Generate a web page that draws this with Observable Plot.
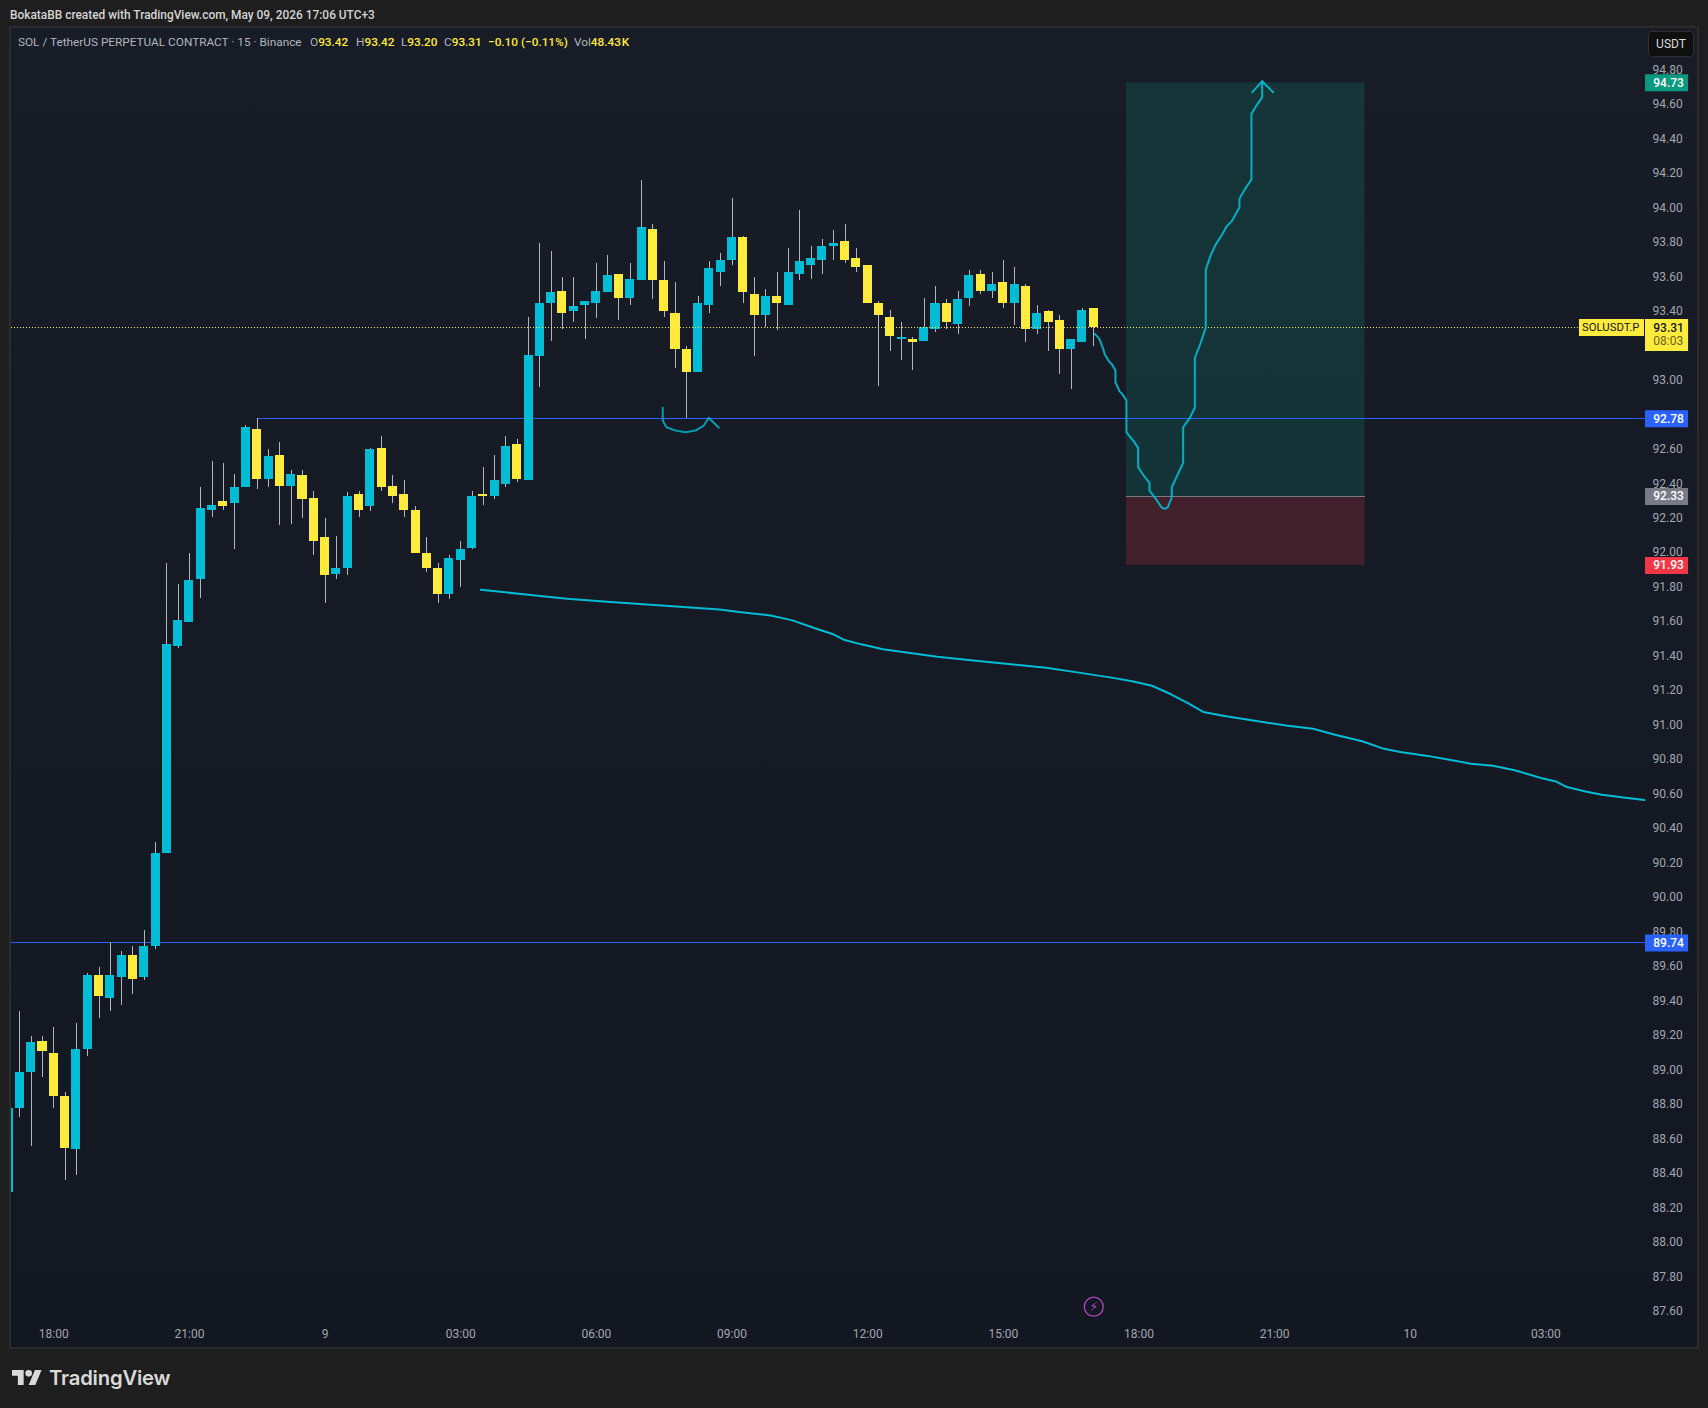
<!DOCTYPE html>
<html>
<head>
<meta charset="utf-8">
<script src="https://cdn.jsdelivr.net/npm/d3@7"></script>
<script src="https://cdn.jsdelivr.net/npm/@observablehq/plot@0.6"></script>
<style>
html,body{margin:0;padding:0;background:#1e1e1e;}
#page{position:relative;width:1708px;height:1408px;overflow:hidden;font-family:Roboto,"Liberation Sans",sans-serif;}
#panel{position:absolute;left:9px;top:26px;width:1686px;height:1319px;border:2px solid #2b2c2e;background:linear-gradient(#181c27,#131722);}
#chart{position:absolute;left:0;top:0;}
#chart svg{background:transparent !important;display:block;}
.t{position:absolute;white-space:nowrap;font-size:11.8px;line-height:16px;}
#credit{left:10px;top:7px;color:#d4d4d4;font-size:11.9px;font-weight:500;}
.lg{top:34px;color:#b2b5be;}
.lg b{font-weight:500;color:#ffeb3b;}
#vol{word-spacing:-2px;}
#usdt{position:absolute;left:1648px;top:31px;width:44px;height:24px;line-height:24px;text-align:center;background:#0f0f0f;border:1px solid #2f2f2f;border-radius:4px;color:#dbdbdb;font-size:12px;}
#logo{position:absolute;left:12px;top:1370px;}
#wm{position:absolute;left:49px;top:1364px;color:#d9d9d9;font:600 20.3px/28px Inter,sans-serif;letter-spacing:-.2px;}
</style>
</head>
<body>
<div id="page">
<div id="panel"></div>
<div id="chart"></div>
<div class="t" id="credit">BokataBB created with TradingView.com, May 09, 2026 17:06 UTC+3</div>
<div class="t lg" style="left:18px">SOL / TetherUS PERPETUAL CONTRACT · 15 · Binance</div>
<div class="t lg" style="left:310px">O<b>93.42</b></div>
<div class="t lg" style="left:356px">H<b>93.42</b></div>
<div class="t lg" style="left:401px">L<b>93.20</b></div>
<div class="t lg" style="left:444px">C<b>93.31</b></div>
<div class="t lg" style="left:488px"><b>−0.10 (−0.11%)</b></div>
<div class="t lg" id="vol" style="left:574px">Vol<b>48.43 K</b></div>
<div id="usdt">USDT</div>
<svg id="logo" width="30" height="15" viewBox="0 4 36 18"><path fill="#d9d9d9" d="M14 22H7V11H0V4h14v18zM28 22h-8l7.5-18h8L28 22z"/><circle fill="#d9d9d9" cx="20" cy="8" r="4"/></svg>
<div id="wm">TradingView</div>
</div>
<script>
const firstBar = -4;
const open = [88.29,88.78,88.99,89.17,89.10,88.85,88.54,89.12,89.55,89.42,89.54,89.67,89.54,89.72,90.26,91.46,91.60,91.85,92.25,92.30,92.29,92.38,92.72,92.43,92.57,92.39,92.45,92.32,92.09,91.88,91.91,92.34,92.27,92.61,92.39,92.34,92.25,92.00,91.91,91.76,91.96,92.03,92.34,92.33,92.40,92.63,92.42,93.14,93.45,93.52,93.40,93.44,93.45,93.51,93.62,93.48,93.58,93.88,93.58,93.39,93.18,93.05,93.44,93.63,93.70,93.83,93.50,93.38,93.49,93.44,93.62,93.67,93.70,93.78,93.81,93.71,93.67,93.45,93.37,93.24,93.24,93.23,93.30,93.45,93.33,93.48,93.62,93.52,93.57,93.45,93.55,93.30,93.40,93.35,93.18,93.22,93.42];
const high = [88.78,89.34,89.20,89.20,89.25,88.87,89.27,89.56,89.60,89.74,89.69,89.72,89.81,90.32,91.94,91.82,92.00,92.38,92.53,92.52,92.46,92.74,92.78,92.60,92.64,92.48,92.48,92.36,92.20,92.10,92.35,92.36,92.61,92.68,92.45,92.42,92.27,92.09,91.94,91.99,92.07,92.36,92.50,92.57,92.68,92.66,93.37,93.80,93.75,93.60,93.60,93.46,93.68,93.73,93.62,93.68,94.16,93.91,93.69,93.57,93.20,93.49,93.69,93.74,94.06,93.84,93.60,93.53,93.63,93.77,93.99,93.78,93.82,93.87,93.91,93.77,93.67,93.46,93.41,93.34,93.25,93.48,93.55,93.47,93.52,93.64,93.64,93.63,93.70,93.66,93.56,93.44,93.41,93.38,93.24,93.42,93.42];
const low = [88.29,88.73,88.56,88.96,88.78,88.36,88.39,89.08,89.30,89.34,89.38,89.44,89.52,89.70,90.26,91.45,91.60,91.74,92.21,92.25,92.02,92.38,92.37,92.38,92.16,92.17,92.20,91.99,91.71,91.85,91.87,92.21,92.24,92.36,92.29,92.21,92.00,91.89,91.71,91.73,91.80,92.02,92.28,92.31,92.38,92.41,92.42,92.96,93.23,93.30,93.34,93.24,93.36,93.51,93.35,93.44,93.58,93.47,93.37,93.07,92.78,93.05,93.39,93.55,93.67,93.45,93.14,93.31,93.29,93.44,93.58,93.59,93.62,93.70,93.68,93.63,93.45,92.97,93.17,93.12,93.06,93.23,93.28,93.30,93.27,93.43,93.50,93.48,93.42,93.32,93.22,93.27,93.17,93.04,92.95,93.22,93.20];
const close = [88.78,88.99,89.16,89.11,88.85,88.55,89.12,89.55,89.43,89.55,89.67,89.53,89.72,90.26,91.47,91.61,91.84,92.26,92.28,92.27,92.38,92.73,92.43,92.56,92.39,92.46,92.31,92.07,91.87,91.91,92.33,92.25,92.60,92.38,92.33,92.25,92.00,91.91,91.76,91.97,92.02,92.33,92.33,92.42,92.62,92.43,93.15,93.45,93.51,93.39,93.43,93.46,93.52,93.61,93.48,93.59,93.89,93.58,93.40,93.18,93.05,93.45,93.65,93.70,93.83,93.51,93.38,93.49,93.45,93.63,93.69,93.71,93.78,93.80,93.70,93.66,93.45,93.38,93.26,93.25,93.22,93.31,93.45,93.34,93.47,93.61,93.52,93.56,93.45,93.56,93.30,93.39,93.34,93.18,93.24,93.41,93.31];

const priceTicks = [87.6,87.8,88,88.2,88.4,88.6,88.8,89,89.2,89.4,89.6,89.8,90,90.2,90.4,90.6,90.8,91,91.2,91.4,91.6,91.8,92,92.2,92.4,92.6,93,93.4,93.6,93.8,94,94.2,94.4,94.6,94.8];
const timeBars = [0,12,24,36,48,60,72,84,96,108,120,132];
const timeLabels = ["18:00","21:00","9","03:00","06:00","09:00","12:00","15:00","18:00","21:00","10","03:00"];

const lastPrice = 93.31;
const countdown = "08:03";
const symbolTag = "SOLUSDT.P";
const rayPrice = 92.78;
const rayStartBar = 18;
const levelPrice = 89.74;

const boxBars = [94.9, 116];
const boxPrices = [94.73, 92.33, 91.93];

const tagPrices = [94.73, 92.78, 92.33, 91.93, 89.74];
const tagColors = ["#089981","#2962ff","#787b86","#f23645","#2962ff"];

const curveBars = [37.78,41.54,45.40,49.25,53.11,56.0,58.89,60.82,63.42,65.35,67.27,69.01,69.97,71.42,73.35,75.75,78.16,82.02,84.91,87.80,90.69,93.58,95.51,97.15,98.88,100.33,101.68,103.70,106.11,109.0,111.41,113.34,115.75,117.67,119.12,121.53,123.46,125.38,127.31,129.24,131.65,132.90,133.86,135.50,136.95,138.88,140.71];
const curvePrices = [91.788,91.763,91.737,91.718,91.700,91.687,91.674,91.658,91.639,91.611,91.567,91.529,91.497,91.472,91.444,91.422,91.400,91.374,91.355,91.336,91.308,91.279,91.257,91.232,91.181,91.131,91.080,91.055,91.030,91.001,90.982,90.948,90.910,90.866,90.847,90.825,90.802,90.780,90.768,90.742,90.695,90.676,90.644,90.619,90.600,90.584,90.569];

const hookBars = [53.87,53.87,54.20,55.0,55.88,56.77,57.50,57.94,58.83];
const hookPrices = [92.844,92.770,92.731,92.712,92.702,92.712,92.741,92.786,92.728];

const pathBars = [92.09,92.50,92.89,92.95,93.33,93.57,93.92,93.92,94.30,94.51,94.89,94.89,95.49,95.93,95.93,96.42,96.93,96.93,97.46,97.99,98.26,98.55,98.90,98.90,99.38,99.91,99.91,100.50,100.94,100.94,101.44,101.91,101.91,102.33,102.77,103.36,103.74,104.25,104.89,104.89,105.33,105.95,105.95,106.39,106.90,106.90];
const pathPrices = [93.273,93.244,93.176,93.157,93.114,93.099,93.060,92.992,92.938,92.925,92.886,92.702,92.654,92.612,92.499,92.451,92.409,92.364,92.319,92.267,92.258,92.267,92.325,92.383,92.451,92.525,92.731,92.786,92.844,93.133,93.217,93.310,93.644,93.727,93.789,93.849,93.895,93.930,94.007,94.056,94.108,94.168,94.549,94.597,94.645,94.738];
const arrowBars = [106.01,106.90,107.87];
const arrowPrices = [94.674,94.738,94.674];

const candles = open.map((o,k)=>({bar:firstBar+k,o,h:high[k],l:low[k],c:close[k]}));
const up = "#00bcd4", dn = "#ffeb3b", wick = "#b2b5be", blue = "#2962ff", draw = "#00bcd4";
const txt = {fontFamily:'Roboto,"Liberation Sans",sans-serif', fontSize:12};
const tagX1 = 140.81, tagX2 = 144.62, tagTextX = 141.5;

const chart = Plot.plot({
  width:1708, height:1408,
  marginLeft:11, marginRight:63, marginTop:27, marginBottom:88,
  style:{background:"transparent", color:"#b2b5be"},
  x:{domain:[-3.742,140.81], label:null},
  y:{domain:[87.55,95.05], label:null},
  marks:[
    Plot.rect([0],{x1:boxBars[0],x2:boxBars[1],y1:boxPrices[0],y2:boxPrices[1],fill:"#089981",fillOpacity:0.2}),
    Plot.rect([0],{x1:boxBars[0],x2:boxBars[1],y1:boxPrices[1],y2:boxPrices[2],fill:"#f23645",fillOpacity:0.2}),
    Plot.ruleY([boxPrices[1]],{x1:boxBars[0],x2:boxBars[1],stroke:"#787b86",strokeWidth:1,shapeRendering:"crispEdges"}),
    Plot.ruleY([levelPrice],{stroke:blue,strokeWidth:1,shapeRendering:"crispEdges"}),
    Plot.ruleY([rayPrice],{x1:rayStartBar,x2:tagX1,stroke:blue,strokeWidth:1,shapeRendering:"crispEdges"}),
    Plot.ruleX(candles,{x:"bar",y1:"l",y2:"h",stroke:wick,strokeWidth:1,clip:true,shapeRendering:"crispEdges"}),
    Plot.rect(candles,{x1:d=>d.bar-0.4,x2:d=>d.bar+0.4,y1:"o",y2:"c",fill:d=>d.c>=d.o?up:dn,clip:true,shapeRendering:"crispEdges"}),
    Plot.ruleY([lastPrice],{stroke:dn,strokeWidth:1,strokeDasharray:"1,2",shapeRendering:"crispEdges"}),
    Plot.line(d3.zip(curveBars,curvePrices),{stroke:draw,strokeWidth:2}),
    Plot.line(d3.zip(hookBars,hookPrices),{stroke:draw,strokeWidth:2,strokeOpacity:0.8}),
    Plot.line(d3.zip(pathBars,pathPrices),{stroke:draw,strokeWidth:2,strokeOpacity:0.9}),
    Plot.line(d3.zip(arrowBars,arrowPrices),{stroke:draw,strokeWidth:2,strokeOpacity:0.9}),
    Plot.axisX({ticks:timeBars,tickFormat:d=>timeLabels[timeBars.indexOf(d)],tickSize:0,tickPadding:9,fill:"#a3a6af",label:null,...txt}),
    Plot.axisY({anchor:"right",ticks:priceTicks,tickFormat:".2f",tickSize:0,tickPadding:7,dy:-0.7,fill:"#a3a6af",label:null,...txt}),
    Plot.ruleY(tagPrices,{x1:tagX1,x2:tagX2,stroke:(d,i)=>tagColors[i],strokeWidth:17}),
    Plot.text(tagPrices,{x:tagTextX,y:d=>d,text:d=>d.toFixed(2),textAnchor:"start",fill:"#fff",fontWeight:500,...txt}),
    Plot.ruleY([lastPrice],{x1:tagX1,x2:tagX2,dy:7.5,stroke:dn,strokeWidth:32}),
    Plot.ruleY([lastPrice],{x1:134.97,x2:140.72,stroke:dn,strokeWidth:17}),
    Plot.text([lastPrice],{x:tagTextX,y:d=>d,dy:0.5,text:d=>d.toFixed(2),textAnchor:"start",fill:"#131722",fontWeight:500,...txt}),
    Plot.text([countdown],{x:tagTextX,y:()=>lastPrice,dy:14,textAnchor:"start",fill:"#6b6220",...txt}),
    Plot.text([symbolTag],{x:135.2,y:()=>lastPrice,textAnchor:"start",fill:"#131722",fontFamily:txt.fontFamily,fontSize:11.3}),
    Plot.dot([92],{x:d=>d,y:()=>87.63,r:9.5,stroke:"#ab47bc",strokeWidth:1.3,fill:"none"}),
    Plot.text(["⚡"],{x:()=>92,y:()=>87.63,fill:"#ab47bc",fontSize:13,fontFamily:"DejaVu Sans"})
  ]
});
document.getElementById("chart").appendChild(chart);
</script>
</body>
</html>
